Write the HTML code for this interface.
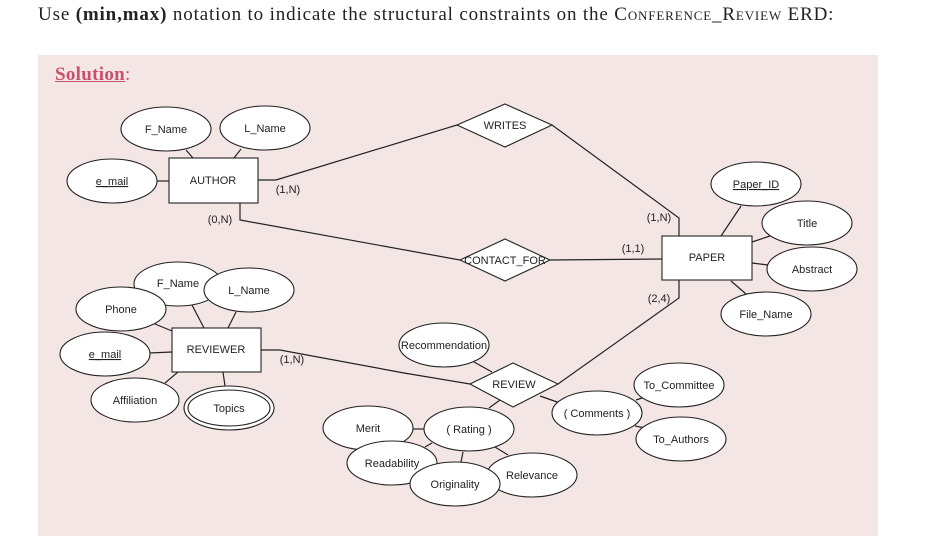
<!DOCTYPE html>
<html><head><meta charset="utf-8"><style>
body{margin:0;background:#fff;width:927px;height:548px;overflow:hidden;position:relative;font-family:"Liberation Serif",serif}
.t{position:absolute;left:38px;top:4px;font-size:19px;letter-spacing:0.85px;color:#222;white-space:nowrap}
.sc{font-variant:small-caps}
.panel{position:absolute;left:38px;top:55px;width:840px;height:481px;background:#f5e6e6}
.sol{position:absolute;left:55px;top:64px;font-size:19px;letter-spacing:0.3px;color:#c8506a;font-weight:bold}
svg{position:absolute;left:0;top:0}
svg text{font-family:"Liberation Sans",sans-serif;font-size:11px;fill:#222}
</style></head><body>
<div class="t">Use <b>(min,max)</b> notation to indicate the structural constraints on the <span class="sc">Conference_Review</span> ERD:</div>
<div class="panel"></div>
<div class="sol"><u>Solution</u><span style="font-weight:normal">:</span></div>
<svg width="927" height="548" viewBox="0 0 927 548">
<g stroke="#222" stroke-width="1.2" fill="none">
<line x1="186" y1="150" x2="193" y2="158"/><line x1="241" y1="149" x2="234" y2="158"/>
<line x1="157" y1="181" x2="169" y2="181"/>
<polyline points="258,180 276,180 457,125"/>
<polyline points="240,203 240,220 460,260"/>
<polyline points="552,125 679,218 679,236"/>
<line x1="550" y1="260" x2="662" y2="259"/>
<polyline points="679,280 679,298 558,384"/>
<line x1="741" y1="206" x2="721" y2="236"/><line x1="752" y1="242" x2="770" y2="236"/>
<line x1="752" y1="263" x2="768" y2="265"/><line x1="731" y1="281" x2="746" y2="294"/>
<line x1="192" y1="305" x2="204" y2="328"/><line x1="236" y1="312" x2="228" y2="328"/>
<line x1="155" y1="324" x2="172" y2="331"/><line x1="149" y1="353" x2="172" y2="352"/>
<line x1="165" y1="383" x2="178" y2="372"/><line x1="223" y1="372" x2="225" y2="386"/>
<polyline points="261,350 280,350 404,373 470,384"/>
<line x1="474" y1="362" x2="492" y2="372"/>
<line x1="500" y1="400" x2="489" y2="408"/>
<line x1="540" y1="396" x2="560" y2="403"/>
<line x1="412" y1="429" x2="424" y2="429"/>
<line x1="425" y1="447" x2="432" y2="443"/><line x1="463" y1="452" x2="461" y2="462"/>
<line x1="495" y1="447" x2="508" y2="455"/>
<line x1="636" y1="400" x2="645" y2="397"/><line x1="635" y1="426" x2="645" y2="428"/>
</g>
<g stroke="#222" stroke-width="1.1" fill="#fff">
<ellipse cx="166" cy="129" rx="45" ry="22"/><ellipse cx="265" cy="128" rx="45" ry="22"/>
<ellipse cx="112" cy="181" rx="45" ry="22"/>
<rect x="169" y="158" width="89" height="45"/>
<polygon points="457,125 505,104 552,125 505,147"/>
<polygon points="460,260 505,239 550,260 505,281"/>
<rect x="662" y="236" width="90" height="44"/>
<ellipse cx="756" cy="184" rx="45" ry="22"/><ellipse cx="807" cy="223" rx="45" ry="22"/>
<ellipse cx="812" cy="269" rx="45" ry="22"/><ellipse cx="766" cy="314" rx="45" ry="22"/>
<ellipse cx="178" cy="284" rx="44" ry="22"/><ellipse cx="121" cy="309" rx="45" ry="22"/>
<ellipse cx="249" cy="290" rx="45" ry="22"/>
<rect x="172" y="328" width="89" height="44"/>
<ellipse cx="105" cy="354" rx="45" ry="22"/><ellipse cx="135" cy="400" rx="44" ry="22"/>
<ellipse cx="229" cy="408" rx="45" ry="22"/><ellipse cx="229" cy="408" rx="41" ry="18"/>
<ellipse cx="444" cy="345" rx="45" ry="22"/>
<polygon points="470,384 513,363 558,384 513,407"/>
<ellipse cx="368" cy="428" rx="45" ry="22"/>
<ellipse cx="469" cy="429" rx="45" ry="22"/>
<ellipse cx="392" cy="463" rx="45" ry="22"/>
<ellipse cx="532" cy="475" rx="45" ry="22"/>
<ellipse cx="455" cy="484" rx="45" ry="22"/>
<ellipse cx="597" cy="413" rx="45" ry="22"/>
<ellipse cx="679" cy="385" rx="45" ry="22"/><ellipse cx="681" cy="439" rx="45" ry="22"/>
</g>
<g text-anchor="middle">
<text x="166" y="133">F_Name</text><text x="265" y="132">L_Name</text>
<text x="112" y="185" text-decoration="underline">e_mail</text>
<text x="213" y="184">AUTHOR</text>
<text x="505" y="129">WRITES</text>
<text x="505" y="264">CONTACT_FOR</text>
<text x="707" y="261">PAPER</text>
<text x="756" y="188" text-decoration="underline">Paper_ID</text>
<text x="807" y="227">Title</text><text x="812" y="273">Abstract</text><text x="766" y="318">File_Name</text>
<text x="178" y="287">F_Name</text><text x="121" y="313">Phone</text><text x="249" y="294">L_Name</text>
<text x="216" y="353">REVIEWER</text>
<text x="105" y="358" text-decoration="underline">e_mail</text>
<text x="135" y="404">Affiliation</text><text x="229" y="412">Topics</text>
<text x="444" y="349">Recommendation</text>
<text x="514" y="388">REVIEW</text>
<text x="368" y="432">Merit</text><text x="469" y="433">( Rating )</text>
<text x="392" y="467">Readability</text><text x="532" y="479">Relevance</text>
<text x="455" y="488">Originality</text>
<text x="597" y="417">( Comments )</text>
<text x="679" y="389">To_Committee</text><text x="681" y="443">To_Authors</text>
<text x="288" y="193">(1,N)</text><text x="220" y="223">(0,N)</text>
<text x="659" y="221">(1,N)</text><text x="633" y="252">(1,1)</text>
<text x="659" y="302">(2,4)</text><text x="292" y="363">(1,N)</text>
</g>
</svg>
</body></html>
